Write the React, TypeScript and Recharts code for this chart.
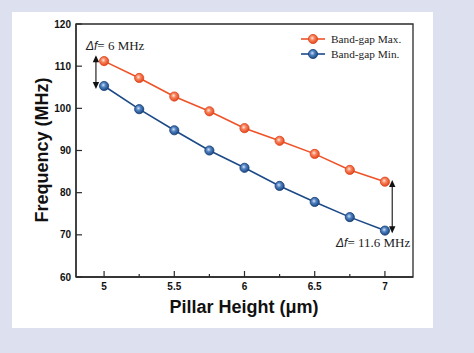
import React from 'react';
import { LineChart, Line, XAxis, YAxis, ReferenceArea, ReferenceLine, Legend } from 'recharts';

const heights = [5, 5.25, 5.5, 5.75, 6, 6.25, 6.5, 6.75, 7];
const bandMax = [111.2, 107.2, 102.8, 99.3, 95.3, 92.3, 89.2, 85.4, 82.6];
const bandMin = [105.3, 99.8, 94.8, 90.0, 85.9, 81.6, 77.8, 74.2, 71.0];

const xTicks = [5, 5.25, 5.5, 5.75, 6, 6.25, 6.5, 6.75, 7];
const yTicks = [60, 65, 70, 75, 80, 85, 90, 95, 100, 105, 110, 115, 120];

const seriesNames = ['Band-gap Max.', 'Band-gap Min.'];
const deltaTexts = ['= 6 MHz', '= 11.6 MHz'];
const arrow1 = { x: 4.942, top: 112.6, bottom: 104.6 };
const arrow2 = { x: 7.052, top: 83.0, bottom: 70.4 };

const data = heights.map((h, i) => ({ h, max: bandMax[i], min: bandMin[i] }));

const ORANGE = '#ef5227';
const BLUE = '#1c4a87';
const AXIS = '#2a2a2a';
const SANS = 'Arial, "Liberation Sans", sans-serif';
const SERIF = '"Times New Roman", "Liberation Serif", serif';

const YTick = (props: any) => {
  const { x, y, payload } = props;
  const v = payload.value;
  const major = v % 10 === 0;
  return (
    <g>
      <line x1={x} y1={y} x2={x + (major ? 6 : 3)} y2={y} stroke={AXIS} strokeWidth={1.2} />
      {major && (
        <text x={x - 5} y={y} textAnchor="end" dominantBaseline="central" fontFamily={SANS} fontWeight="bold" fontSize={10} fill="#111">
          {v}
        </text>
      )}
    </g>
  );
};

const XTick = (props: any) => {
  const { x, y, payload } = props;
  const v = payload.value;
  const major = Math.abs(v * 2 - Math.round(v * 2)) < 1e-6;
  return (
    <g>
      <line x1={x} y1={y} x2={x} y2={y - (major ? 6 : 3)} stroke={AXIS} strokeWidth={1.2} />
      {major && (
        <text x={x} y={y + 9} textAnchor="middle" dominantBaseline="central" fontFamily={SANS} fontWeight="bold" fontSize={10} fill="#111">
          {v}
        </text>
      )}
    </g>
  );
};

const arrowHeads = (x: number, y1: number, y2: number) => {
  const w = 3.2, l = 7;
  return (
    <g fill="#111" stroke="none">
      <polygon points={`${x},${y1} ${x - w},${y1 + l} ${x + w},${y1 + l}`} />
      <polygon points={`${x},${y2} ${x - w},${y2 - l} ${x + w},${y2 - l}`} />
    </g>
  );
};

const Arrow1 = (props: any) => {
  const { x1, y1, y2 } = props;
  const top = Math.min(y1, y2), bot = Math.max(y1, y2);
  return (
    <g>
      <line x1={x1} y1={top + 3} x2={x1} y2={bot - 3} stroke="#111" strokeWidth={1.1} />
      {arrowHeads(x1, top, bot)}
      <text x={x1 - 10} y={top - 5} fontFamily={SERIF} fontSize={13} fill="#222">
        <tspan fontStyle="italic" fontFamily={SANS} fontSize={12}>Δf</tspan>
        <tspan>{deltaTexts[0]}</tspan>
      </text>
    </g>
  );
};

const Arrow2 = (props: any) => {
  const { x1, y1, y2 } = props;
  const top = Math.min(y1, y2), bot = Math.max(y1, y2);
  return (
    <g>
      <line x1={x1} y1={top + 3} x2={x1} y2={bot - 3} stroke="#111" strokeWidth={1.1} />
      {arrowHeads(x1, top, bot)}
      <text x={x1 + 18} y={bot + 14} textAnchor="end" fontFamily={SERIF} fontSize={13} fill="#222">
        <tspan fontStyle="italic" fontFamily={SANS} fontSize={12}>Δf</tspan>
        <tspan>{deltaTexts[1]}</tspan>
      </text>
    </g>
  );
};

const LegendContent = () => {
  const items = [
    { name: seriesNames[0], color: ORANGE, grad: 'url(#gO)', stroke: '#e0421a' },
    { name: seriesNames[1], color: BLUE, grad: 'url(#gB)', stroke: '#163f75' },
  ];
  return (
    <svg width={140} height={36}>
      {items.map((it, i) => (
        <g key={it.name} transform={`translate(0, ${7 + i * 15})`}>
          <line x1={2} y1={0} x2={26} y2={0} stroke={it.color} strokeWidth={1.6} />
          <circle cx={14} cy={0} r={4.6} fill={it.grad} stroke={it.stroke} strokeWidth={0.8} />
          <text x={32} y={0} dominantBaseline="central" fontFamily={SERIF} fontSize={11.3} fill="#222">
            {it.name}
          </text>
        </g>
      ))}
    </svg>
  );
};

export default function App() {
  return (
    <div style={{ position: 'absolute', left: 0, top: 0, width: 474, height: 353, background: '#dde1ef' }}>
      <div style={{ position: 'absolute', left: 12, top: 12, width: 421, height: 316, background: '#ffffff' }} />
      <svg width={474} height={353} style={{ position: 'absolute', left: 0, top: 0 }}>
        <defs>
          <radialGradient id="gO" cx="42%" cy="40%" r="60%">
            <stop offset="0%" stopColor="#ffe9de" />
            <stop offset="40%" stopColor="#f7845e" />
            <stop offset="100%" stopColor="#e4461b" />
          </radialGradient>
          <radialGradient id="gB" cx="42%" cy="40%" r="60%">
            <stop offset="0%" stopColor="#d3e3f6" />
            <stop offset="40%" stopColor="#5283c2" />
            <stop offset="100%" stopColor="#1a4783" />
          </radialGradient>
        </defs>
        <text
          transform="translate(42, 150) rotate(-90)"
          textAnchor="middle"
          dominantBaseline="central"
          fontFamily={SANS}
          fontWeight="bold"
          fontSize={18}
          fill="#111"
        >
          Frequency (MHz)
        </text>
        <text x={244} y={313} textAnchor="middle" fontFamily={SANS} fontWeight="bold" fontSize={18} fill="#111">
          Pillar Height (μm)
        </text>
      </svg>
      <div style={{ position: 'absolute', left: 0, top: 0 }}>
        <LineChart width={474} height={353} data={data} margin={{ top: 24, right: 61, bottom: 46, left: 16 }}>
          <XAxis
            dataKey="h"
            type="number"
            domain={[4.8, 7.2]}
            ticks={xTicks}
            tick={<XTick />}
            tickLine={false}
            tickSize={0}
            tickMargin={0}
            height={30}
            axisLine={{ stroke: AXIS, strokeWidth: 1.3 }}
            allowDataOverflow
          />
          <YAxis
            type="number"
            domain={[60, 120]}
            ticks={yTicks}
            tick={<YTick />}
            tickLine={false}
            tickSize={0}
            tickMargin={0}
            width={60}
            axisLine={{ stroke: AXIS, strokeWidth: 1.3 }}
            allowDataOverflow
          />
          <ReferenceArea x1={4.8} x2={7.2} y1={60} y2={120} fill="none" stroke={AXIS} strokeWidth={1.3} fillOpacity={0} ifOverflow="visible" />
          <Legend
            layout="vertical"
            align="center"
            verticalAlign="middle"
            content={<LegendContent />}
            wrapperStyle={{ position: 'absolute', left: 299, top: 32, width: 140, height: 36 }}
          />
          <Line
            dataKey="max"
            name={seriesNames[0]}
            stroke={ORANGE}
            strokeWidth={1.6}
            dot={{ r: 4.6, fill: 'url(#gO)', stroke: '#e0421a', strokeWidth: 0.8 }}
            isAnimationActive={false}
          />
          <Line
            dataKey="min"
            name={seriesNames[1]}
            stroke={BLUE}
            strokeWidth={1.6}
            dot={{ r: 4.6, fill: 'url(#gB)', stroke: '#163f75', strokeWidth: 0.8 }}
            isAnimationActive={false}
          />
          <ReferenceLine
            segment={[{ x: arrow1.x, y: arrow1.top }, { x: arrow1.x, y: arrow1.bottom }]}
            shape={<Arrow1 />}
            ifOverflow="visible"
          />
          <ReferenceLine
            segment={[{ x: arrow2.x, y: arrow2.top }, { x: arrow2.x, y: arrow2.bottom }]}
            shape={<Arrow2 />}
            ifOverflow="visible"
          />
        </LineChart>
      </div>
    </div>
  );
}
